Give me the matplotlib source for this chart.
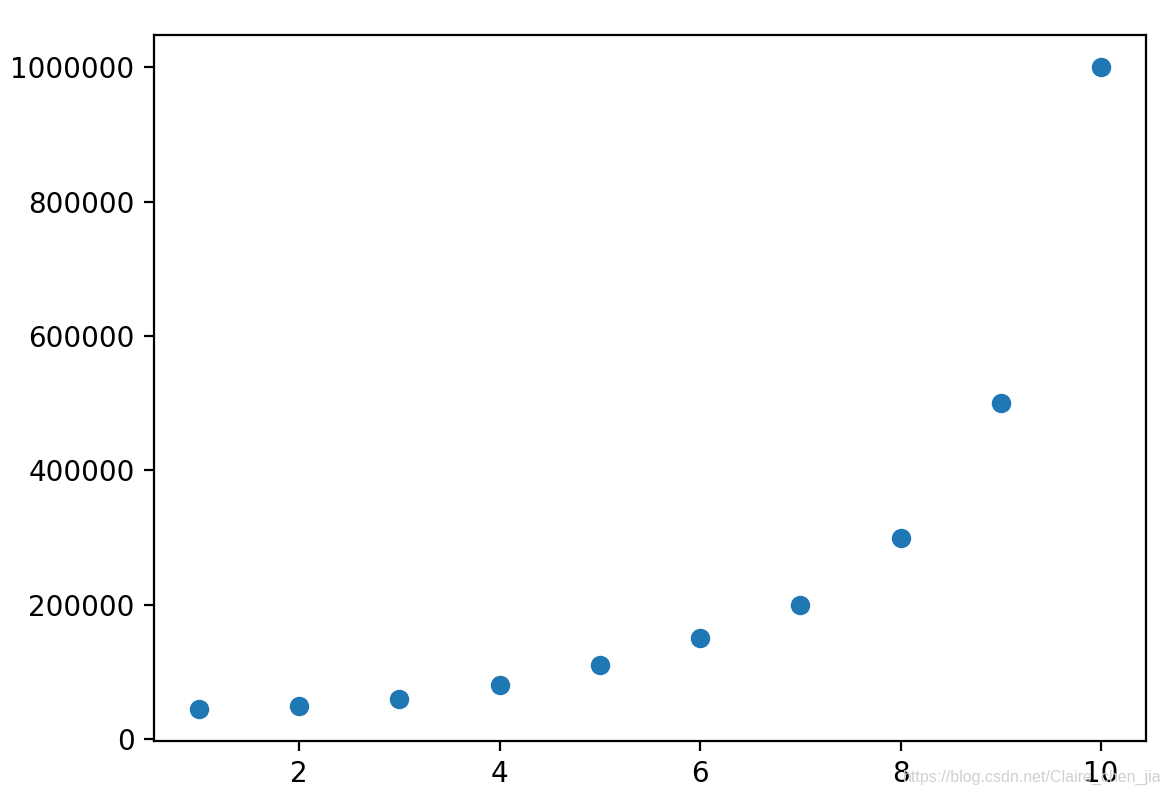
import matplotlib
matplotlib.use("Agg")
import matplotlib.pyplot as plt

# position level vs salary
levels = [1, 2, 3, 4, 5, 6, 7, 8, 9, 10]
salaries = [45000, 50000, 60000, 80000, 110000, 150000, 200000, 300000, 500000, 1000000]

fig = plt.figure(figsize=(5.85, 3.975), dpi=200)
ax = fig.add_axes([154 / 1170, 1 - 741 / 795, (1146 - 154) / 1170, (741 - 35) / 795])
ax.scatter(levels, salaries, color="#1f77b4")
ax.ticklabel_format(style="plain", axis="y")

# csdn watermark
fig.text(0.772, 0.016, "https://blog.csdn.net/Claire_chen_jia", fontsize=5.75,
         color="#d0d0d0", family="Liberation Sans")

fig.savefig("out.png", dpi=200)
